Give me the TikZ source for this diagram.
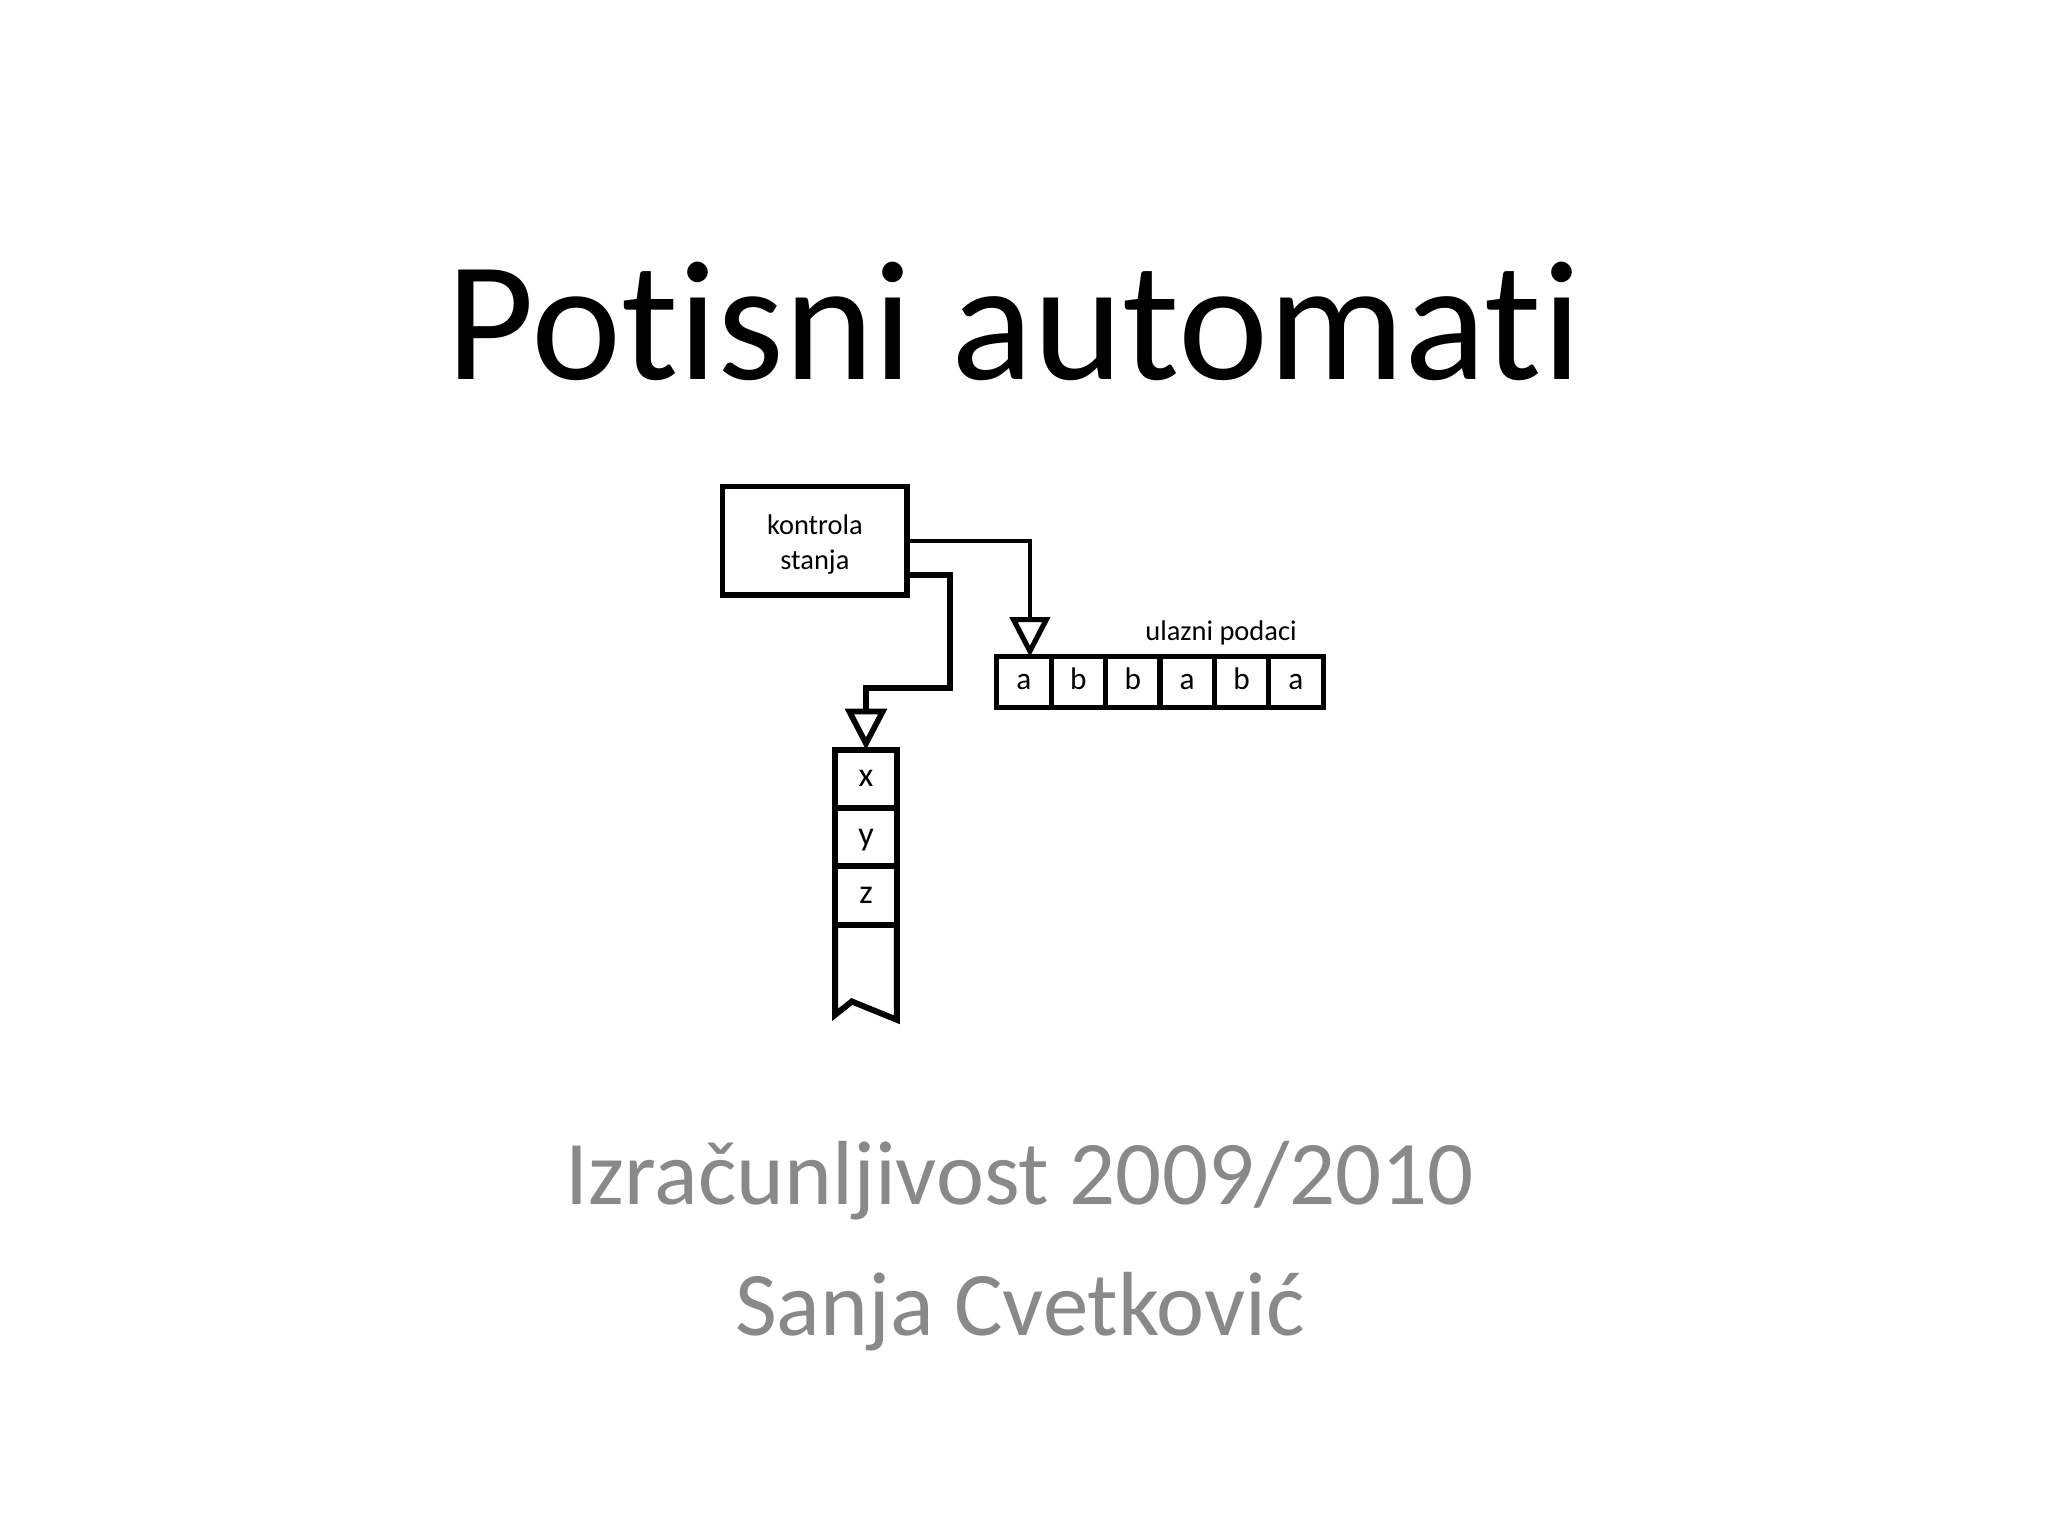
\documentclass[tikz,border=0pt]{standalone}
\usepackage{fontspec}
\setmainfont{Carlito}[Ligatures=NoCommon]
\usetikzlibrary{arrows.meta,calc}
\definecolor{subgray}{RGB}{137,137,137}
\begin{document}
\begin{tikzpicture}[x=0.3516pt,y=-0.3516pt,
  lbl/.style={font=\fontsize{10}{12.3}\selectfont, inner sep=0pt},
  cell/.style={draw, line width=1.8pt, minimum width=19.1pt, minimum height=17.9pt,
    inner sep=0pt, outer sep=0pt, text height=7.6pt, text depth=2.2pt, font=\fontsize{11}{13}\selectfont},
  scell/.style={draw, line width=2.1pt, minimum width=21.7pt, minimum height=20.5pt,
    inner sep=0pt, outer sep=0pt, text height=7.8pt, text depth=2.4pt, font=\fontsize{12}{14}\selectfont},
  ctrlbox/.style={draw, line width=1.9pt, minimum width=64.8pt, minimum height=38.1pt,
    align=center, inner sep=0pt, outer sep=0pt, font=\fontsize{10}{12.3}\selectfont},
  conn/.style={line width=1.6pt, -{Triangle[open, width=14pt, length=14pt, line width=1.8pt]}},
  connthick/.style={line width=2.3pt, -{Triangle[open, width=14.5pt, length=14.5pt, line width=2pt]}},
  title/.style={font=\fontsize{60}{72}\selectfont, inner sep=0pt, anchor=base},
  subtitle/.style={font=\fontsize{32}{38}\selectfont, text=subgray, inner sep=0pt, anchor=base}
]
\useasboundingbox (0,0) rectangle (2048,1536);
\fill[white] (0,0) rectangle (2048,1536);

% Title
\node[title] (ttl) at (1014,379) {Potisni automati};

% Control box
\node[ctrlbox] (ctrl) at (814.9,540.9) {\rule{0pt}{9.5pt}kontrola\\stanja};

% Input tape
\foreach \i/\c in {1/a,2/b,3/b,4/a,5/b,6/a} {
  \node[cell] (t\i) at ({996.7+27.2+(\i-1)*54.4},682.3) {\c};
}
\node[lbl, anchor=base] (ulaz) at (1221,640) {ulazni podaci};

% Stack
\node[scell] (s1) at (866,779) {x};
\node[scell, anchor=north] (s2) at (s1.south) {y};
\node[scell, anchor=north] (s3) at (s2.south) {z};
\draw[line width=2.1pt, line join=miter]
  (s3.south west) -- ($(s3.south west)+(0,90)$) -- ($(s3.south west)+(16.7,76.7)$)
  -- ($(s3.south east)+(0,95)$) -- (s3.south east);

% Connectors
\coordinate (tapeIn) at ($(t1.north)+(6,0)$);
\draw[conn] (ctrl.east) -| (tapeIn);

\coordinate (start2) at ($(ctrl.east)+(0,34)$);
\coordinate (bend) at (950,688);
\draw[connthick] (start2) -- (start2 -| bend) -- (bend) -| (s1.north);

% Subtitle
\node[subtitle] (sub1) at (1020,1204) {Izračunljivost 2009/2010};
\node[subtitle] (sub2) at (1020,1335) {Sanja Cvetković};
\end{tikzpicture}
\end{document}
